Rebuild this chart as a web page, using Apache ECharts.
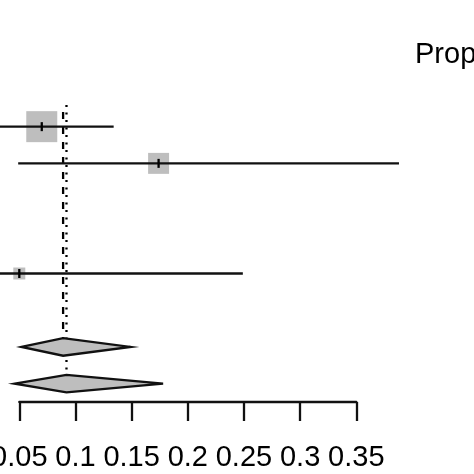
<!DOCTYPE html>
<html>
<head>
<meta charset="utf-8">
<script src="https://cdn.jsdelivr.net/npm/echarts@6/dist/echarts.min.js"></script>
<style>
html,body{margin:0;padding:0;background:#fff;}
#chart{width:474px;height:474px;}
</style>
</head>
<body>
<div id="chart"></div>
<script>
// ---- data ----
const rowLabels = ['Study 1', 'Study 2', '', '', 'Study 3', '', 'Fixed effect model', 'Random effects model'];
const studyNames = ['Study 1', 'Study 2', 'Study 3'];
const studyEst = [0.070, 0.174, 0.050];
const studyLower = [0.025, 0.049, 0.001];
const studyUpper = [0.134, 0.388, 0.249];
const studyWeight = [62.2, 28.5, 9.3];
const summaryNames = ['Fixed effect model', 'Random effects model'];
const summaryEst = [0.089, 0.092];
const summaryLower = [0.052, 0.046];
const summaryUpper = [0.149, 0.178];
const xMin = 0.05, xMax = 0.35, xStep = 0.05;
const axisTitle = 'Proportion';

const FONT = '"Liberation Sans", Arial, sans-serif';
const chart = echarts.init(document.getElementById('chart'), null, {renderer: 'canvas'});

const studyData = studyNames.map((n, i) => [studyEst[i], rowLabels.indexOf(n), studyLower[i], studyUpper[i], studyWeight[i]]);
const summaryData = summaryNames.map((n, i) => [summaryEst[i], rowLabels.indexOf(n), summaryLower[i], summaryUpper[i]]);
const refData = summaryNames.map((n, i) => [summaryEst[i], rowLabels.indexOf(n), i]);

chart.setOption({
  animation: false,
  backgroundColor: '#fff',
  grid: {left: 19.3, right: 117.7, top: 108.3, bottom: 72, containLabel: false, outerBoundsMode: 'none'},
  xAxis: {
    type: 'value', min: xMin, max: xMax, interval: xStep,
    splitLine: {show: false},
    axisLine: {show: true, lineStyle: {color: '#111', width: 2.3}},
    axisTick: {show: true, length: 19, lineStyle: {color: '#111', width: 2.3}},
    axisLabel: {color: '#000', fontSize: 29, fontFamily: FONT, margin: 41, showMinLabel: true, showMaxLabel: true, hideOverlap: false}
  },
  yAxis: {
    type: 'category', data: rowLabels, inverse: true, show: false
  },
  graphic: [{
    type: 'text', left: 415, top: 40,
    style: {text: axisTitle, font: '29px ' + FONT, fill: '#000'}
  }],
  series: [
    {
      type: 'custom', clip: false, z: 1,
      data: refData,
      renderItem: function (params, api) {
        const x = api.coord([api.value(0), 0])[0];
        const band = api.size([0, 1])[1];
        const yTop = api.coord([0, 0])[1] - 0.59 * band;
        const yBot = api.coord([0, api.value(1)])[1] - 9;
        const dashed = api.value(2) === 0;
        return {
          type: 'line',
          shape: {x1: x, y1: yTop, x2: x, y2: yBot},
          style: {stroke: '#000', lineWidth: 2.3, lineDash: dashed ? [7, 8] : [2, 5.5], lineDashOffset: dashed ? 8 : 0}
        };
      }
    },
    {
      type: 'custom', clip: false, z: 2,
      data: studyData,
      renderItem: function (params, api) {
        const c = api.coord([api.value(0), api.value(1)]);
        const lo = api.coord([api.value(2), api.value(1)]);
        const hi = api.coord([api.value(3), api.value(1)]);
        const s = 3.93 * Math.sqrt(api.value(4));
        return {
          type: 'group',
          children: [
            {type: 'rect', shape: {x: c[0] - s / 2, y: c[1] - s / 2, width: s, height: s}, style: {fill: '#bebebe'}},
            {type: 'line', shape: {x1: lo[0], y1: c[1], x2: hi[0], y2: c[1]}, style: {stroke: '#111', lineWidth: 2.3}},
            {type: 'line', shape: {x1: c[0], y1: c[1] - 4.5, x2: c[0], y2: c[1] + 4.5}, style: {stroke: '#000', lineWidth: 2.3}}
          ]
        };
      }
    },
    {
      type: 'custom', clip: false, z: 3,
      data: summaryData,
      renderItem: function (params, api) {
        const c = api.coord([api.value(0), api.value(1)]);
        const lo = api.coord([api.value(2), api.value(1)]);
        const hi = api.coord([api.value(3), api.value(1)]);
        const h = 8.8;
        return {
          type: 'polygon',
          shape: {points: [[lo[0], c[1]], [c[0], c[1] - h], [hi[0], c[1]], [c[0], c[1] + h]]},
          style: {fill: '#bebebe', stroke: '#111', lineWidth: 2.3}
        };
      }
    }
  ]
});
</script>
</body>
</html>
